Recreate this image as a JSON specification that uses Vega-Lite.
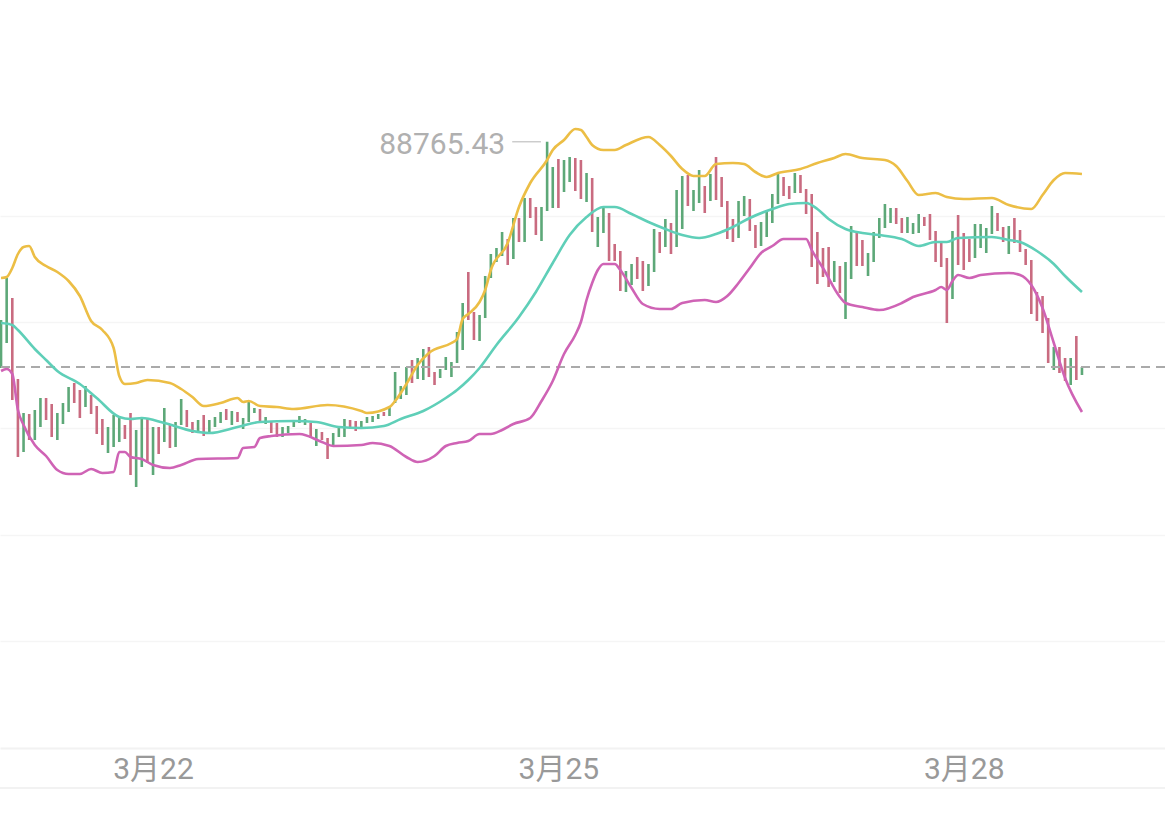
{
"$schema":"https://vega.github.io/schema/vega-lite/v6.json",
"width":1165,"height":748,
"autosize":"none",
"padding":{"left":0,"top":0,"right":0,"bottom":74},
"background":"white",
"config":{"view":{"stroke":null},"font":"Roboto"},
"datasets":{
"candles":[
{"t":"2025-03-20T21:00","high":85200,"low":84240,"dir":"up"},
{"t":"2025-03-20T22:00","high":86040,"low":84740,"dir":"up"},
{"t":"2025-03-20T23:00","high":85640,"low":83600,"dir":"down"},
{"t":"2025-03-21T00:00","high":84020,"low":82460,"dir":"down"},
{"t":"2025-03-21T01:00","high":83340,"low":82560,"dir":"up"},
{"t":"2025-03-21T02:00","high":83320,"low":82800,"dir":"down"},
{"t":"2025-03-21T03:00","high":83400,"low":82800,"dir":"up"},
{"t":"2025-03-21T04:00","high":83640,"low":83060,"dir":"up"},
{"t":"2025-03-21T05:00","high":83640,"low":83200,"dir":"down"},
{"t":"2025-03-21T06:00","high":83520,"low":82860,"dir":"down"},
{"t":"2025-03-21T07:00","high":83340,"low":82800,"dir":"up"},
{"t":"2025-03-21T08:00","high":83540,"low":83120,"dir":"up"},
{"t":"2025-03-21T09:00","high":83860,"low":83360,"dir":"up"},
{"t":"2025-03-21T10:00","high":83940,"low":83540,"dir":"down"},
{"t":"2025-03-21T11:00","high":83800,"low":83240,"dir":"down"},
{"t":"2025-03-21T12:00","high":83880,"low":83460,"dir":"up"},
{"t":"2025-03-21T13:00","high":83700,"low":83320,"dir":"down"},
{"t":"2025-03-21T14:00","high":83480,"low":82920,"dir":"down"},
{"t":"2025-03-21T15:00","high":83220,"low":82700,"dir":"down"},
{"t":"2025-03-21T16:00","high":83060,"low":82540,"dir":"up"},
{"t":"2025-03-21T17:00","high":83300,"low":82660,"dir":"up"},
{"t":"2025-03-21T18:00","high":83260,"low":82760,"dir":"up"},
{"t":"2025-03-21T19:00","high":83100,"low":82820,"dir":"down"},
{"t":"2025-03-21T20:00","high":83340,"low":82100,"dir":"down"},
{"t":"2025-03-21T21:00","high":83000,"low":81860,"dir":"up"},
{"t":"2025-03-21T22:00","high":83240,"low":82260,"dir":"up"},
{"t":"2025-03-21T23:00","high":83220,"low":82340,"dir":"down"},
{"t":"2025-03-22T00:00","high":83060,"low":82100,"dir":"up"},
{"t":"2025-03-22T01:00","high":83060,"low":82520,"dir":"down"},
{"t":"2025-03-22T02:00","high":83440,"low":82760,"dir":"up"},
{"t":"2025-03-22T03:00","high":83100,"low":82640,"dir":"down"},
{"t":"2025-03-22T04:00","high":83160,"low":82660,"dir":"up"},
{"t":"2025-03-22T05:00","high":83620,"low":83100,"dir":"up"},
{"t":"2025-03-22T06:00","high":83400,"low":83060,"dir":"down"},
{"t":"2025-03-22T07:00","high":83160,"low":82940,"dir":"down"},
{"t":"2025-03-22T08:00","high":83200,"low":82940,"dir":"up"},
{"t":"2025-03-22T09:00","high":83300,"low":82880,"dir":"down"},
{"t":"2025-03-22T10:00","high":83200,"low":82920,"dir":"up"},
{"t":"2025-03-22T11:00","high":83260,"low":83060,"dir":"up"},
{"t":"2025-03-22T12:00","high":83360,"low":83140,"dir":"up"},
{"t":"2025-03-22T13:00","high":83420,"low":83200,"dir":"down"},
{"t":"2025-03-22T14:00","high":83380,"low":83100,"dir":"up"},
{"t":"2025-03-22T15:00","high":83360,"low":83160,"dir":"down"},
{"t":"2025-03-22T16:00","high":83240,"low":83020,"dir":"up"},
{"t":"2025-03-22T17:00","high":83560,"low":83160,"dir":"up"},
{"t":"2025-03-22T18:00","high":83440,"low":83340,"dir":"up"},
{"t":"2025-03-22T19:00","high":83420,"low":83160,"dir":"down"},
{"t":"2025-03-22T20:00","high":83260,"low":83120,"dir":"up"},
{"t":"2025-03-22T21:00","high":83160,"low":82940,"dir":"down"},
{"t":"2025-03-22T22:00","high":83140,"low":82860,"dir":"down"},
{"t":"2025-03-22T23:00","high":83060,"low":82860,"dir":"up"},
{"t":"2025-03-23T00:00","high":83080,"low":82940,"dir":"up"},
{"t":"2025-03-23T01:00","high":83200,"low":83060,"dir":"up"},
{"t":"2025-03-23T02:00","high":83280,"low":83140,"dir":"up"},
{"t":"2025-03-23T03:00","high":83220,"low":83100,"dir":"up"},
{"t":"2025-03-23T04:00","high":83140,"low":82840,"dir":"down"},
{"t":"2025-03-23T05:00","high":83020,"low":82680,"dir":"up"},
{"t":"2025-03-23T06:00","high":82960,"low":82800,"dir":"down"},
{"t":"2025-03-23T07:00","high":82840,"low":82420,"dir":"down"},
{"t":"2025-03-23T08:00","high":82940,"low":82660,"dir":"up"},
{"t":"2025-03-23T09:00","high":83080,"low":82860,"dir":"up"},
{"t":"2025-03-23T10:00","high":83220,"low":82860,"dir":"up"},
{"t":"2025-03-23T11:00","high":83200,"low":83060,"dir":"down"},
{"t":"2025-03-23T12:00","high":83180,"low":82980,"dir":"down"},
{"t":"2025-03-23T13:00","high":83180,"low":83020,"dir":"up"},
{"t":"2025-03-23T14:00","high":83260,"low":83140,"dir":"up"},
{"t":"2025-03-23T15:00","high":83280,"low":83160,"dir":"up"},
{"t":"2025-03-23T16:00","high":83320,"low":83220,"dir":"up"},
{"t":"2025-03-23T17:00","high":83360,"low":83280,"dir":"down"},
{"t":"2025-03-23T18:00","high":83460,"low":83280,"dir":"up"},
{"t":"2025-03-23T19:00","high":84160,"low":83540,"dir":"up"},
{"t":"2025-03-23T20:00","high":83880,"low":83620,"dir":"up"},
{"t":"2025-03-23T21:00","high":84260,"low":83700,"dir":"up"},
{"t":"2025-03-23T22:00","high":84400,"low":83940,"dir":"down"},
{"t":"2025-03-23T23:00","high":84440,"low":84020,"dir":"up"},
{"t":"2025-03-24T00:00","high":84620,"low":84000,"dir":"up"},
{"t":"2025-03-24T01:00","high":84660,"low":84060,"dir":"down"},
{"t":"2025-03-24T02:00","high":84160,"low":83900,"dir":"down"},
{"t":"2025-03-24T03:00","high":84220,"low":84040,"dir":"up"},
{"t":"2025-03-24T04:00","high":84460,"low":84200,"dir":"up"},
{"t":"2025-03-24T05:00","high":84360,"low":84060,"dir":"up"},
{"t":"2025-03-24T06:00","high":84960,"low":84340,"dir":"up"},
{"t":"2025-03-24T07:00","high":85540,"low":84600,"dir":"up"},
{"t":"2025-03-24T08:00","high":86160,"low":85200,"dir":"down"},
{"t":"2025-03-24T09:00","high":85360,"low":84800,"dir":"down"},
{"t":"2025-03-24T10:00","high":85300,"low":84780,"dir":"up"},
{"t":"2025-03-24T11:00","high":86080,"low":85240,"dir":"up"},
{"t":"2025-03-24T12:00","high":86520,"low":86040,"dir":"up"},
{"t":"2025-03-24T13:00","high":86640,"low":86360,"dir":"up"},
{"t":"2025-03-24T14:00","high":86960,"low":86480,"dir":"up"},
{"t":"2025-03-24T15:00","high":86820,"low":86300,"dir":"down"},
{"t":"2025-03-24T16:00","high":87240,"low":86420,"dir":"up"},
{"t":"2025-03-24T17:00","high":87240,"low":86760,"dir":"down"},
{"t":"2025-03-24T18:00","high":87640,"low":86760,"dir":"up"},
{"t":"2025-03-24T19:00","high":87640,"low":87240,"dir":"down"},
{"t":"2025-03-24T20:00","high":87460,"low":86900,"dir":"down"},
{"t":"2025-03-24T21:00","high":87460,"low":86780,"dir":"up"},
{"t":"2025-03-24T22:00","high":88765.43,"low":87380,"dir":"up"},
{"t":"2025-03-24T23:00","high":88260,"low":87440,"dir":"up"},
{"t":"2025-03-25T00:00","high":88420,"low":87440,"dir":"down"},
{"t":"2025-03-25T01:00","high":88400,"low":87760,"dir":"up"},
{"t":"2025-03-25T02:00","high":88460,"low":87960,"dir":"up"},
{"t":"2025-03-25T03:00","high":88440,"low":87780,"dir":"down"},
{"t":"2025-03-25T04:00","high":88400,"low":87620,"dir":"down"},
{"t":"2025-03-25T05:00","high":88140,"low":87560,"dir":"up"},
{"t":"2025-03-25T06:00","high":88040,"low":86960,"dir":"down"},
{"t":"2025-03-25T07:00","high":87260,"low":86660,"dir":"up"},
{"t":"2025-03-25T08:00","high":87460,"low":86940,"dir":"up"},
{"t":"2025-03-25T09:00","high":87340,"low":86380,"dir":"down"},
{"t":"2025-03-25T10:00","high":86720,"low":86380,"dir":"down"},
{"t":"2025-03-25T11:00","high":86580,"low":85780,"dir":"down"},
{"t":"2025-03-25T12:00","high":86180,"low":85760,"dir":"up"},
{"t":"2025-03-25T13:00","high":86320,"low":85900,"dir":"up"},
{"t":"2025-03-25T14:00","high":86460,"low":86020,"dir":"down"},
{"t":"2025-03-25T15:00","high":86380,"low":85780,"dir":"down"},
{"t":"2025-03-25T16:00","high":86320,"low":85880,"dir":"up"},
{"t":"2025-03-25T17:00","high":87020,"low":86160,"dir":"up"},
{"t":"2025-03-25T18:00","high":86960,"low":86540,"dir":"down"},
{"t":"2025-03-25T19:00","high":87220,"low":86660,"dir":"up"},
{"t":"2025-03-25T20:00","high":87140,"low":86520,"dir":"down"},
{"t":"2025-03-25T21:00","high":87800,"low":86660,"dir":"up"},
{"t":"2025-03-25T22:00","high":88080,"low":87020,"dir":"up"},
{"t":"2025-03-25T23:00","high":88100,"low":87480,"dir":"down"},
{"t":"2025-03-26T00:00","high":87800,"low":87380,"dir":"up"},
{"t":"2025-03-26T01:00","high":88200,"low":87540,"dir":"up"},
{"t":"2025-03-26T02:00","high":87880,"low":87340,"dir":"down"},
{"t":"2025-03-26T03:00","high":88120,"low":87580,"dir":"up"},
{"t":"2025-03-26T04:00","high":88460,"low":87600,"dir":"down"},
{"t":"2025-03-26T05:00","high":88060,"low":87460,"dir":"down"},
{"t":"2025-03-26T06:00","high":87580,"low":86820,"dir":"down"},
{"t":"2025-03-26T07:00","high":87220,"low":86760,"dir":"down"},
{"t":"2025-03-26T08:00","high":87580,"low":86840,"dir":"up"},
{"t":"2025-03-26T09:00","high":87680,"low":87280,"dir":"up"},
{"t":"2025-03-26T10:00","high":87620,"low":86980,"dir":"down"},
{"t":"2025-03-26T11:00","high":87100,"low":86640,"dir":"down"},
{"t":"2025-03-26T12:00","high":87160,"low":86680,"dir":"up"},
{"t":"2025-03-26T13:00","high":87360,"low":86860,"dir":"up"},
{"t":"2025-03-26T14:00","high":87720,"low":87140,"dir":"up"},
{"t":"2025-03-26T15:00","high":88140,"low":87520,"dir":"up"},
{"t":"2025-03-26T16:00","high":88060,"low":87680,"dir":"down"},
{"t":"2025-03-26T17:00","high":87880,"low":87620,"dir":"down"},
{"t":"2025-03-26T18:00","high":88140,"low":87740,"dir":"up"},
{"t":"2025-03-26T19:00","high":88100,"low":87740,"dir":"down"},
{"t":"2025-03-26T20:00","high":87820,"low":87320,"dir":"down"},
{"t":"2025-03-26T21:00","high":87720,"low":86260,"dir":"down"},
{"t":"2025-03-26T22:00","high":86960,"low":85920,"dir":"down"},
{"t":"2025-03-26T23:00","high":86640,"low":86060,"dir":"down"},
{"t":"2025-03-27T00:00","high":86660,"low":85860,"dir":"down"},
{"t":"2025-03-27T01:00","high":86380,"low":85960,"dir":"up"},
{"t":"2025-03-27T02:00","high":86280,"low":85740,"dir":"down"},
{"t":"2025-03-27T03:00","high":86360,"low":85220,"dir":"up"},
{"t":"2025-03-27T04:00","high":87080,"low":86020,"dir":"up"},
{"t":"2025-03-27T05:00","high":86960,"low":86280,"dir":"down"},
{"t":"2025-03-27T06:00","high":86800,"low":86280,"dir":"down"},
{"t":"2025-03-27T07:00","high":86540,"low":86080,"dir":"up"},
{"t":"2025-03-27T08:00","high":86960,"low":86360,"dir":"up"},
{"t":"2025-03-27T09:00","high":87240,"low":86840,"dir":"up"},
{"t":"2025-03-27T10:00","high":87520,"low":87040,"dir":"up"},
{"t":"2025-03-27T11:00","high":87440,"low":87140,"dir":"up"},
{"t":"2025-03-27T12:00","high":87440,"low":87120,"dir":"down"},
{"t":"2025-03-27T13:00","high":87240,"low":86940,"dir":"down"},
{"t":"2025-03-27T14:00","high":87260,"low":86940,"dir":"up"},
{"t":"2025-03-27T15:00","high":87140,"low":86920,"dir":"up"},
{"t":"2025-03-27T16:00","high":87320,"low":86940,"dir":"up"},
{"t":"2025-03-27T17:00","high":87260,"low":87080,"dir":"down"},
{"t":"2025-03-27T18:00","high":87320,"low":86800,"dir":"down"},
{"t":"2025-03-27T19:00","high":86980,"low":86360,"dir":"down"},
{"t":"2025-03-27T20:00","high":86740,"low":86260,"dir":"down"},
{"t":"2025-03-27T21:00","high":86440,"low":85140,"dir":"down"},
{"t":"2025-03-27T22:00","high":86980,"low":85620,"dir":"up"},
{"t":"2025-03-27T23:00","high":87300,"low":86300,"dir":"down"},
{"t":"2025-03-28T00:00","high":86940,"low":86200,"dir":"down"},
{"t":"2025-03-28T01:00","high":86820,"low":86360,"dir":"down"},
{"t":"2025-03-28T02:00","high":87120,"low":86440,"dir":"up"},
{"t":"2025-03-28T03:00","high":87120,"low":86640,"dir":"up"},
{"t":"2025-03-28T04:00","high":87040,"low":86540,"dir":"up"},
{"t":"2025-03-28T05:00","high":87480,"low":86920,"dir":"up"},
{"t":"2025-03-28T06:00","high":87340,"low":86980,"dir":"down"},
{"t":"2025-03-28T07:00","high":87060,"low":86760,"dir":"down"},
{"t":"2025-03-28T08:00","high":87080,"low":86520,"dir":"up"},
{"t":"2025-03-28T09:00","high":87240,"low":86740,"dir":"down"},
{"t":"2025-03-28T10:00","high":87000,"low":86560,"dir":"down"},
{"t":"2025-03-28T11:00","high":86620,"low":86300,"dir":"down"},
{"t":"2025-03-28T12:00","high":86400,"low":85320,"dir":"down"},
{"t":"2025-03-28T13:00","high":85760,"low":85180,"dir":"down"},
{"t":"2025-03-28T14:00","high":85680,"low":84940,"dir":"down"},
{"t":"2025-03-28T15:00","high":85240,"low":84340,"dir":"down"},
{"t":"2025-03-28T16:00","high":84660,"low":84200,"dir":"up"},
{"t":"2025-03-28T17:00","high":84660,"low":84140,"dir":"down"},
{"t":"2025-03-28T18:00","high":84440,"low":83980,"dir":"down"},
{"t":"2025-03-28T19:00","high":84440,"low":83900,"dir":"up"},
{"t":"2025-03-28T20:00","high":84880,"low":84000,"dir":"down"},
{"t":"2025-03-28T21:00","high":84260,"low":84100,"dir":"up"}
],
"upper":[
{"t":"2025-03-20T21:00","v":86040},{"t":"2025-03-20T22:00","v":86060},{"t":"2025-03-20T23:00","v":86240},{"t":"2025-03-21T00:00","v":86520},{"t":"2025-03-21T01:00","v":86660},{"t":"2025-03-21T02:00","v":86680},{"t":"2025-03-21T03:00","v":86460},{"t":"2025-03-21T05:00","v":86280},{"t":"2025-03-21T07:00","v":86160},{"t":"2025-03-21T09:00","v":85980},{"t":"2025-03-21T11:00","v":85680},{"t":"2025-03-21T13:00","v":85180},{"t":"2025-03-21T15:00","v":85000},{"t":"2025-03-21T17:00","v":84640},{"t":"2025-03-21T18:00","v":84080},{"t":"2025-03-21T19:00","v":83920},{"t":"2025-03-21T21:00","v":83940},{"t":"2025-03-21T23:00","v":84000},{"t":"2025-03-22T03:00","v":83940},{"t":"2025-03-22T05:00","v":83820},{"t":"2025-03-22T07:00","v":83660},{"t":"2025-03-22T09:00","v":83480},{"t":"2025-03-22T12:00","v":83540},{"t":"2025-03-22T15:00","v":83640},{"t":"2025-03-22T16:00","v":83560},{"t":"2025-03-22T17:00","v":83580},{"t":"2025-03-22T19:00","v":83480},{"t":"2025-03-22T22:00","v":83460},{"t":"2025-03-23T01:00","v":83420},{"t":"2025-03-23T07:00","v":83500},{"t":"2025-03-23T13:00","v":83380},{"t":"2025-03-23T14:00","v":83340},{"t":"2025-03-23T18:00","v":83460},{"t":"2025-03-23T19:00","v":83580},{"t":"2025-03-23T21:00","v":83920},{"t":"2025-03-23T23:00","v":84300},{"t":"2025-03-24T01:00","v":84540},{"t":"2025-03-24T05:00","v":84740},{"t":"2025-03-24T06:00","v":84820},{"t":"2025-03-24T07:00","v":85220},{"t":"2025-03-24T08:00","v":85320},{"t":"2025-03-24T10:00","v":85560},{"t":"2025-03-24T11:00","v":85800},{"t":"2025-03-24T12:00","v":86200},{"t":"2025-03-24T15:00","v":86740},{"t":"2025-03-24T17:00","v":87460},{"t":"2025-03-24T19:00","v":87940},{"t":"2025-03-24T22:00","v":88400},{"t":"2025-03-24T23:00","v":88600},{"t":"2025-03-25T01:00","v":88800},{"t":"2025-03-25T03:00","v":89020},{"t":"2025-03-25T04:00","v":89000},{"t":"2025-03-25T05:00","v":88860},{"t":"2025-03-25T06:00","v":88700},{"t":"2025-03-25T08:00","v":88600},{"t":"2025-03-25T10:00","v":88600},{"t":"2025-03-25T12:00","v":88700},{"t":"2025-03-25T16:00","v":88860},{"t":"2025-03-25T18:00","v":88700},{"t":"2025-03-25T20:00","v":88480},{"t":"2025-03-25T22:00","v":88220},{"t":"2025-03-26T00:00","v":88080},{"t":"2025-03-26T02:00","v":88080},{"t":"2025-03-26T04:00","v":88320},{"t":"2025-03-26T07:00","v":88340},{"t":"2025-03-26T09:00","v":88320},{"t":"2025-03-26T11:00","v":88160},{"t":"2025-03-26T13:00","v":88060},{"t":"2025-03-26T15:00","v":88140},{"t":"2025-03-26T19:00","v":88220},{"t":"2025-03-26T22:00","v":88340},{"t":"2025-03-27T01:00","v":88440},{"t":"2025-03-27T03:00","v":88520},{"t":"2025-03-27T06:00","v":88440},{"t":"2025-03-27T10:00","v":88400},{"t":"2025-03-27T12:00","v":88280},{"t":"2025-03-27T14:00","v":87980},{"t":"2025-03-27T16:00","v":87700},{"t":"2025-03-27T19:00","v":87740},{"t":"2025-03-27T21:00","v":87660},{"t":"2025-03-28T00:00","v":87620},{"t":"2025-03-28T05:00","v":87640},{"t":"2025-03-28T08:00","v":87500},{"t":"2025-03-28T12:00","v":87420},{"t":"2025-03-28T14:00","v":87700},{"t":"2025-03-28T16:00","v":88000},{"t":"2025-03-28T18:00","v":88140},{"t":"2025-03-28T21:00","v":88120}
],
"middle":[
{"t":"2025-03-20T21:00","v":85140},{"t":"2025-03-20T23:00","v":85100},{"t":"2025-03-21T00:00","v":85000},{"t":"2025-03-21T03:00","v":84620},{"t":"2025-03-21T05:00","v":84400},{"t":"2025-03-21T07:00","v":84180},{"t":"2025-03-21T11:00","v":83920},{"t":"2025-03-21T14:00","v":83640},{"t":"2025-03-21T18:00","v":83260},{"t":"2025-03-21T20:00","v":83220},{"t":"2025-03-21T22:00","v":83240},{"t":"2025-03-22T02:00","v":83140},{"t":"2025-03-22T07:00","v":82980},{"t":"2025-03-22T10:00","v":82940},{"t":"2025-03-22T15:00","v":83060},{"t":"2025-03-22T19:00","v":83160},{"t":"2025-03-23T01:00","v":83180},{"t":"2025-03-23T05:00","v":83160},{"t":"2025-03-23T09:00","v":83060},{"t":"2025-03-23T13:00","v":83040},{"t":"2025-03-23T17:00","v":83080},{"t":"2025-03-23T20:00","v":83220},{"t":"2025-03-24T00:00","v":83380},{"t":"2025-03-24T04:00","v":83640},{"t":"2025-03-24T06:00","v":83800},{"t":"2025-03-24T08:00","v":84000},{"t":"2025-03-24T10:00","v":84240},{"t":"2025-03-24T13:00","v":84700},{"t":"2025-03-24T17:00","v":85260},{"t":"2025-03-24T20:00","v":85760},{"t":"2025-03-24T23:00","v":86340},{"t":"2025-03-25T02:00","v":86900},{"t":"2025-03-25T05:00","v":87260},{"t":"2025-03-25T08:00","v":87460},{"t":"2025-03-25T10:00","v":87460},{"t":"2025-03-25T13:00","v":87320},{"t":"2025-03-25T16:00","v":87160},{"t":"2025-03-25T19:00","v":87020},{"t":"2025-03-25T22:00","v":86900},{"t":"2025-03-26T01:00","v":86840},{"t":"2025-03-26T04:00","v":86920},{"t":"2025-03-26T07:00","v":87060},{"t":"2025-03-26T10:00","v":87240},{"t":"2025-03-26T14:00","v":87420},{"t":"2025-03-26T17:00","v":87520},{"t":"2025-03-26T20:00","v":87540},{"t":"2025-03-26T22:00","v":87420},{"t":"2025-03-27T00:00","v":87220},{"t":"2025-03-27T03:00","v":87020},{"t":"2025-03-27T06:00","v":86940},{"t":"2025-03-27T09:00","v":86900},{"t":"2025-03-27T13:00","v":86820},{"t":"2025-03-27T16:00","v":86680},{"t":"2025-03-27T19:00","v":86760},{"t":"2025-03-27T21:00","v":86760},{"t":"2025-03-27T23:00","v":86840},{"t":"2025-03-28T05:00","v":86860},{"t":"2025-03-28T08:00","v":86800},{"t":"2025-03-28T10:00","v":86760},{"t":"2025-03-28T13:00","v":86580},{"t":"2025-03-28T16:00","v":86320},{"t":"2025-03-28T18:00","v":86080},{"t":"2025-03-28T21:00","v":85760}
],
"lower":[
{"t":"2025-03-20T21:00","v":84180},{"t":"2025-03-20T22:00","v":84220},{"t":"2025-03-20T23:00","v":84120},{"t":"2025-03-21T00:00","v":83400},{"t":"2025-03-21T01:00","v":83100},{"t":"2025-03-21T03:00","v":82700},{"t":"2025-03-21T05:00","v":82480},{"t":"2025-03-21T07:00","v":82200},{"t":"2025-03-21T09:00","v":82120},{"t":"2025-03-21T11:00","v":82120},{"t":"2025-03-21T13:00","v":82220},{"t":"2025-03-21T15:00","v":82140},{"t":"2025-03-21T17:00","v":82160},{"t":"2025-03-21T18:00","v":82560},{"t":"2025-03-21T19:00","v":82560},{"t":"2025-03-21T20:00","v":82460},{"t":"2025-03-21T22:00","v":82420},{"t":"2025-03-22T00:00","v":82300},{"t":"2025-03-22T03:00","v":82240},{"t":"2025-03-22T05:00","v":82300},{"t":"2025-03-22T08:00","v":82420},{"t":"2025-03-22T15:00","v":82440},{"t":"2025-03-22T16:00","v":82640},{"t":"2025-03-22T18:00","v":82660},{"t":"2025-03-22T19:00","v":82840},{"t":"2025-03-22T21:00","v":82880},{"t":"2025-03-23T02:00","v":82920},{"t":"2025-03-23T06:00","v":82760},{"t":"2025-03-23T08:00","v":82680},{"t":"2025-03-23T13:00","v":82700},{"t":"2025-03-23T15:00","v":82740},{"t":"2025-03-23T18:00","v":82680},{"t":"2025-03-23T21:00","v":82460},{"t":"2025-03-23T23:00","v":82360},{"t":"2025-03-24T02:00","v":82480},{"t":"2025-03-24T04:00","v":82680},{"t":"2025-03-24T06:00","v":82740},{"t":"2025-03-24T08:00","v":82780},{"t":"2025-03-24T10:00","v":82920},{"t":"2025-03-24T12:00","v":82920},{"t":"2025-03-24T14:00","v":83000},{"t":"2025-03-24T16:00","v":83120},{"t":"2025-03-24T19:00","v":83240},{"t":"2025-03-24T21:00","v":83580},{"t":"2025-03-24T23:00","v":83980},{"t":"2025-03-25T01:00","v":84520},{"t":"2025-03-25T03:00","v":84900},{"t":"2025-03-25T04:00","v":85160},{"t":"2025-03-25T05:00","v":85600},{"t":"2025-03-25T06:00","v":85940},{"t":"2025-03-25T07:00","v":86200},{"t":"2025-03-25T08:00","v":86320},{"t":"2025-03-25T10:00","v":86320},{"t":"2025-03-25T11:00","v":86200},{"t":"2025-03-25T13:00","v":85840},{"t":"2025-03-25T15:00","v":85520},{"t":"2025-03-25T18:00","v":85420},{"t":"2025-03-25T20:00","v":85420},{"t":"2025-03-25T22:00","v":85540},{"t":"2025-03-26T02:00","v":85600},{"t":"2025-03-26T04:00","v":85560},{"t":"2025-03-26T06:00","v":85680},{"t":"2025-03-26T08:00","v":85940},{"t":"2025-03-26T10:00","v":86240},{"t":"2025-03-26T12:00","v":86540},{"t":"2025-03-26T14:00","v":86680},{"t":"2025-03-26T16:00","v":86820},{"t":"2025-03-26T20:00","v":86820},{"t":"2025-03-26T21:00","v":86600},{"t":"2025-03-26T23:00","v":86240},{"t":"2025-03-27T02:00","v":85660},{"t":"2025-03-27T03:00","v":85540},{"t":"2025-03-27T06:00","v":85460},{"t":"2025-03-27T09:00","v":85400},{"t":"2025-03-27T13:00","v":85540},{"t":"2025-03-27T15:00","v":85660},{"t":"2025-03-27T19:00","v":85800},{"t":"2025-03-27T20:00","v":85860},{"t":"2025-03-27T21:00","v":85800},{"t":"2025-03-27T22:00","v":85980},{"t":"2025-03-27T23:00","v":86100},{"t":"2025-03-28T01:00","v":86040},{"t":"2025-03-28T03:00","v":86100},{"t":"2025-03-28T08:00","v":86140},{"t":"2025-03-28T10:00","v":86100},{"t":"2025-03-28T12:00","v":85900},{"t":"2025-03-28T14:00","v":85440},{"t":"2025-03-28T16:00","v":84740},{"t":"2025-03-28T18:00","v":84040},{"t":"2025-03-28T21:00","v":83360}
],
"peak":[{"t":"2025-03-24T22:00","from":"2025-03-24T15:48","to":"2025-03-24T20:54","v":88765.43}]
},
"layer":[
{
"data":{"values":[{"v":75840}]},
"mark":{"type":"rule","color":"#f2f2f2","strokeWidth":2},
"encoding":{"y":{"field":"v","type":"quantitative","title":null,
"scale":{"domain":[76640,91600],"nice":false,"zero":false},
"axis":{"values":[87280,85160,83040,80900,78780],"grid":true,"gridColor":"#f5f5f5","gridWidth":1.5,"labels":false,"ticks":false,"domain":false,"title":null}}}
},
{
"data":{"name":"candles"},
"mark":{"type":"rule","strokeWidth":2.6},
"encoding":{
"x":{"field":"t","type":"temporal","title":null,
"scale":{"domain":["2025-03-20T20:49","2025-03-29T11:45"]},
"axis":{"values":["2025-03-22T00:00","2025-03-25T00:00","2025-03-28T00:00"],"format":"%-m月%-d","grid":false,"ticks":false,"domain":true,"domainColor":"#f2f2f2","domainWidth":2,"labelColor":"#999999","labelFont":"Roboto, Noto Sans CJK SC","labelFontSize":30,"labelPadding":6,"labelFlush":false,"labelOverlap":false,"title":null}},
"y":{"field":"high","type":"quantitative"},
"y2":{"field":"low"},
"color":{"field":"dir","type":"nominal","legend":null,"scale":{"domain":["up","down"],"range":["#5da878","#c96b80"]}}
}
},
{
"data":{"values":[{"v":84260}]},
"mark":{"type":"rule","color":"#aaaaaa","strokeWidth":2,"strokeDash":[9,6]},
"encoding":{"y":{"field":"v","type":"quantitative"}}
},
{
"data":{"name":"upper"},
"mark":{"type":"line","color":"#ecbe45","strokeWidth":2.6,"interpolate":"monotone"},
"encoding":{"x":{"field":"t","type":"temporal"},"y":{"field":"v","type":"quantitative"}}
},
{
"data":{"name":"middle"},
"mark":{"type":"line","color":"#5fcfb8","strokeWidth":2.6,"interpolate":"monotone"},
"encoding":{"x":{"field":"t","type":"temporal"},"y":{"field":"v","type":"quantitative"}}
},
{
"data":{"name":"lower"},
"mark":{"type":"line","color":"#cf63b5","strokeWidth":2.6,"interpolate":"monotone"},
"encoding":{"x":{"field":"t","type":"temporal"},"y":{"field":"v","type":"quantitative"}}
},
{
"data":{"name":"peak"},
"mark":{"type":"rule","color":"#cccccc","strokeWidth":1.5},
"encoding":{"x":{"field":"from","type":"temporal"},"x2":{"field":"to"},"y":{"field":"v","type":"quantitative"}}
},
{
"data":{"name":"peak"},
"mark":{"type":"text","align":"right","baseline":"middle","dx":-42,"dy":3,"fontSize":30,"font":"Roboto","color":"#b0b0b0"},
"encoding":{"x":{"field":"t","type":"temporal"},"y":{"field":"v","type":"quantitative"},"text":{"field":"v","type":"quantitative","format":".2f"}}
}
]
}
